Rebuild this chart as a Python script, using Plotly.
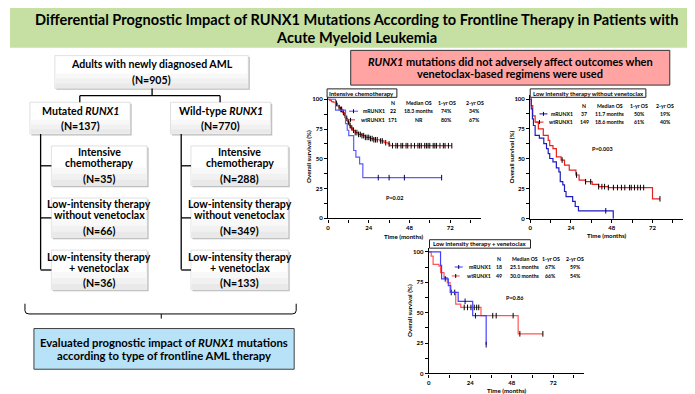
import plotly.graph_objects as go

W, H = 695, 394
def X(p): return p / W
def Y(p): return 1 - p / H

FONT = "Lato"

# ---------------- data ----------------
# Intensive chemotherapy
ic_mut_t = [0, 4.4, 10.3, 11.3, 12.2, 15.1, 16.4, 18.6, 20.5]
ic_mut_s = [100, 90.9, 79.5, 74.0, 69.4, 57.0, 51.4, 45.8, 34.2]
ic_mut_end = 67
ic_mut_cens = [29.6, 36, 45, 67]

ic_wt_t = [0, 1, 2, 3, 4.4, 5.5, 6.5, 7.4, 8.5, 9.5, 10.3, 11.5, 12.5, 13.2, 14.5, 16, 18, 20, 22, 24.8, 27, 30.6, 33, 35.4, 36.4]
ic_wt_s = [100, 99, 98, 97.5, 96.5, 94.5, 93, 91.5, 89, 86.5, 84, 81, 78, 76, 74, 72, 70.5, 69.4, 68, 67, 66, 65, 63.5, 62.5, 61]
ic_wt_end = 73
ic_wt_cens = [5, 6.5, 7.5, 8, 9, 10, 11, 12, 13, 14, 15, 16, 17, 18, 19, 20, 21, 22, 23, 24, 25, 26, 27, 28, 29,
              31, 32, 34, 36, 38, 40, 41, 43, 44, 46, 47, 49, 51, 53, 54, 55, 57, 58, 59, 60, 62, 63, 64, 66, 68, 69, 71, 73]

# Low intensity therapy without venetoclax
li_mut_t = [0, 0.6, 1.3, 1.9, 2.9, 5.4, 8, 9.6, 10.6, 11.5, 13.4, 15.4, 16.9, 17.7, 19.2, 20.2, 21.1, 25, 26.5, 28.4, 48.9]
li_mut_s = [100, 91.7, 83.4, 77.9, 69.6, 67.4, 62.7, 58.6, 54.4, 50.3, 47.5, 42.5, 39.2, 30.9, 28.2, 22.7, 18.5, 14.4, 10.2, 6.6, 0]
li_mut_end = 48.9
li_mut_cens = [44.5]

li_wt_t = [0, 0.6, 1.5, 2.9, 4.8, 7.7, 10.6, 11.5, 13.4, 15.4, 18.2, 20.2, 23, 26.9, 28.8, 32.6, 36.5, 40.3, 46, 72]
li_wt_s = [100, 94.5, 86, 80.7, 75, 69.6, 65.5, 61, 58.6, 51.7, 49, 44.8, 40.6, 36.5, 32.3, 30.9, 28.7, 26.8, 26, 16.6]
li_wt_end = 76.4
li_wt_cens = [18.8, 27.3, 32.6, 35.6, 40.3, 42.2, 43.8, 46, 49, 51.4, 53.7, 55.7, 58.5, 59.5, 61.4, 63.3, 64.9, 66.8, 76.4]

# Low intensity therapy + venetoclax
lv_mut_t = [0, 6.8, 7.4, 11.3, 12.7, 17, 25.4, 33.2]
lv_mut_s = [100, 88.9, 77.8, 72.2, 66.7, 59.3, 47.5, 23.7]
lv_mut_end = 33.2
lv_mut_cens = [9.5, 21, 27, 33.2]

lv_wt_t = [0, 1.4, 2.5, 5.9, 6.8, 8.8, 10.7, 12.3, 15.6, 18.5, 30.2, 51.7]
lv_wt_s = [100, 96.5, 89.7, 88.3, 82.9, 78.8, 74.7, 66.6, 57.0, 54.3, 47.5, 32.6]
lv_wt_end = 66
lv_wt_cens = [13, 15, 20.5, 22.4, 24.4, 26.3, 27.7, 28.9, 37, 39, 48.8, 52.7, 66]

x_ticks = [0, 12, 24, 36, 48, 60, 72, 84]
x_labels = ["0", "", "24", "", "48", "", "72", ""]
y_ticks = [0, 12.5, 25, 37.5, 50, 62.5, 75, 87.5, 100]
y_labels = ["0", "", "25", "", "50", "", "75", "", "100"]

legend_header = ["N", "Median OS", "1-yr OS", "2-yr OS"]
ic_rows = [["mRUNX1", "22", "18.3 months", "74%", "34%"], ["wtRUNX1", "171", "NR", "80%", "67%"]]
li_rows = [["mRUNX1", "37", "11.7 months", "50%", "19%"], ["wtRUNX1", "149", "18.6 months", "61%", "40%"]]
lv_rows = [["mRUNX1", "18", "25.1 months", "67%", "59%"], ["wtRUNX1", "49", "30.0 months", "66%", "54%"]]

# ---------------- figure ----------------
fig = go.Figure()

def surv_at(t, times, surv):
    v = surv[0]
    for tt, ss in zip(times, surv):
        if tt <= t:
            v = ss
    return v

def add_km(times, surv, end, cens, color, ccolor, ax):
    xs = list(times) + [end]
    ys = list(surv) + [surv[-1]]
    fig.add_trace(go.Scatter(x=xs, y=ys, mode="lines", line=dict(color=color, width=1.2, shape="hv"),
                             xaxis="x" + ax, yaxis="y" + ax, showlegend=False, hoverinfo="skip"))
    cy = [surv_at(c, times, surv) for c in cens]
    fig.add_trace(go.Scatter(x=cens, y=cy, mode="markers",
                             marker=dict(symbol="line-ns", size=4, line=dict(width=1, color=ccolor)),
                             xaxis="x" + ax, yaxis="y" + ax, showlegend=False, hoverinfo="skip"))

add_km(ic_wt_t, ic_wt_s, ic_wt_end, ic_wt_cens, "#ff2a2a", "#000000", "")
add_km(ic_mut_t, ic_mut_s, ic_mut_end, ic_mut_cens, "#5a5aff", "#000060", "")
add_km(li_wt_t, li_wt_s, li_wt_end, li_wt_cens, "#e82020", "#000000", "2")
add_km(li_mut_t, li_mut_s, li_mut_end, li_mut_cens, "#1c1cc0", "#000060", "2")
add_km(lv_wt_t, lv_wt_s, lv_wt_end, lv_wt_cens, "#ff5555", "#000000", "3")
add_km(lv_mut_t, lv_mut_s, lv_mut_end, lv_mut_cens, "#4040ff", "#000060", "3")

def xax(dom, anchor):
    return dict(domain=dom, range=[0, 90], anchor=anchor, showgrid=False, zeroline=False,
                showline=True, linecolor="black", linewidth=1.3, ticks="outside", ticklen=3,
                tickwidth=1, tickcolor="black", tickvals=x_ticks,
                ticktext=["<b>%s</b>" % t if t else "" for t in x_labels],
                tickfont=dict(size=6, family=FONT, color="black"), fixedrange=True)

def yax(dom, top, anchor):
    return dict(domain=dom, range=[0, top], anchor=anchor, showgrid=False, zeroline=False,
                showline=True, linecolor="black", linewidth=1.3, ticks="outside", ticklen=3,
                tickwidth=1, tickcolor="black", tickvals=y_ticks,
                ticktext=["<b>%s</b>" % t if t else "" for t in y_labels],
                tickfont=dict(size=6, family=FONT, color="black"), fixedrange=True)

fig.update_layout(
    width=W, height=H, margin=dict(l=0, r=0, t=0, b=0),
    paper_bgcolor="white", plot_bgcolor="rgba(0,0,0,0)", showlegend=False,
    xaxis=xax([X(319), X(472)], "y"),
    yaxis=yax([Y(212), Y(88)], 103.3, "x"),
    xaxis2=xax([X(521.7), X(675)], "y2"),
    yaxis2=yax([Y(212.3), Y(88)], 103.1, "x2"),
    xaxis3=xax([X(420), X(576)], "y3"),
    yaxis3=yax([Y(368.3), Y(242)], 103.0, "x3"),
)

shapes = []
ann = []

def rect(x0, y0, x1, y1, fill, line="#000000", lw=1, layer="below"):
    shapes.append(dict(type="rect", xref="paper", yref="paper", x0=X(x0), x1=X(x1), y0=Y(y1), y1=Y(y0),
                       fillcolor=fill, line=dict(color=line, width=lw), layer=layer))

def line(x0, y0, x1, y1, color="#000000", lw=1.3, layer="below"):
    shapes.append(dict(type="line", xref="paper", yref="paper", x0=X(x0), x1=X(x1), y0=Y(y0), y1=Y(y1),
                       line=dict(color=color, width=lw), layer=layer))

def text(x, y, s, size, bold=True, xanchor="center", color="#000000", angle=0):
    ann.append(dict(x=X(x), y=Y(y), xref="paper", yref="paper", text=("<b>%s</b>" % s) if bold else s,
                    showarrow=False, xanchor=xanchor, yanchor="middle", textangle=angle,
                    font=dict(size=size, family=FONT, color=color)))

# Title band
rect(0, 0, W, 40, "#c6e0a4", line="#c6e0a4", lw=0)
text(347.5, 11.5, "Differential Prognostic Impact of RUNX1 Mutations According to Frontline Therapy in Patients with", 14.6)
text(347.5, 29.5, "Acute Myeloid Leukemia", 14.6)

BOX_FS = 10.6

# flowchart boxes
def fbox(x0, y0, x1, y1, lines, ys, size=BOX_FS):
    rect(x0 + 1.5, y0 + 1.5, x1 + 1.5, y1 + 1.5, "#bdbdbd", line="#bdbdbd", lw=0)
    rect(x0, y0, x1, y1, "#ffffff", line="#d8d8d8", lw=0.8)
    h = y1 - y0
    for k, c in enumerate(["#f8f8f8", "#f1f1f1", "#e9e9e9"]):
        rect(x0 + 0.5, y0 + h * (0.55 + 0.15 * k), x1 - 0.5, y1 - 0.5, c, line=c, lw=0)
    for s, yy in zip(lines, ys):
        text((x0 + x1) / 2, yy, s, size)

fbox(45, 48, 239, 81, ["Adults with newly diagnosed AML", "(N=905)"], [56.7, 72.7])
fbox(20, 95, 120.5, 127, ["Mutated <i>RUNX1</i>", "(N=137)"], [103.3, 119])
fbox(161, 95, 261.5, 127, ["Wild-type <i>RUNX1</i>", "(N=770)"], [103.3, 119])

sub_y = [(139, 179), (191.5, 231.5), (244, 284)]
left_txt = [["Intensive", "chemotherapy", "(N=35)"],
            ["Low-intensity therapy", "without venetoclax", "(N=66)"],
            ["Low-intensity therapy", "+ venetoclax", "(N=36)"]]
right_txt = [["Intensive", "chemotherapy", "(N=288)"],
             ["Low-intensity therapy", "without venetoclax", "(N=349)"],
             ["Low-intensity therapy", "+ venetoclax", "(N=133)"]]
for (y0, y1), lt, rt in zip(sub_y, left_txt, right_txt):
    ys = [y0 + 6.5, y0 + 17.5, y0 + 33]
    fbox(41.5, y0, 137.5, y1, lt, ys)
    fbox(181.5, y0, 279, y1, rt, ys)

# connectors
line(142.5, 81, 142.5, 88.3)
line(70, 88.3, 210.7, 88.3)
line(70, 88.3, 70, 95)
line(210.7, 88.3, 210.7, 95)
line(30.7, 127, 30.7, 263.5)
line(171.7, 127, 171.7, 263.5)
for (y0, y1) in sub_y:
    ym = (y0 + y1) / 2
    line(30.7, ym, 41.5, ym)
    line(171.7, ym, 181.5, ym)

# bracket
shapes.append(dict(type="path", xref="paper", yref="paper",
                   path="M %f %f L %f %f Q %f %f %f %f L %f %f Q %f %f %f %f L %f %f M %f %f L %f %f" % (
                       X(15), Y(298), X(15), Y(305), X(15), Y(308.3), X(19), Y(308.3), X(283), Y(308.3),
                       X(287), Y(308.3), X(287), Y(305), X(287), Y(298),
                       X(151.7), Y(308.3), X(151.7), Y(313)),
                   line=dict(color="#000000", width=1)))

# blue summary box
rect(24, 323, 285, 364, "#b8e2f8", line="#404040", lw=1)
text(154.5, 337.5, "Evaluated prognostic impact of <i>RUNX1</i> mutations", 11.3)
text(154.5, 350.5, "according to type of frontline AML therapy", 11.3)

# pink message box
rect(341.7, 42.7, 661.7, 77.7, "#ffa3a3", line="#333333", lw=1)
text(501.7, 54, "<i>RUNX1</i> mutations did not adversely affect outcomes when", 11.0)
text(501.7, 66.5, "venetoclax-based regimens were used", 11.0)

# KM panel titles
def ptitle(x0, y0, x1, y1, s):
    rect(x0, y0, x1, y1, "#ffffff", line="#222222", lw=1, layer="above")
    text((x0 + x1) / 2, (y0 + y1) / 2, s, 6)

ptitle(318, 81.5, 388, 90, "Intensive chemotherapy")
ptitle(521.7, 81.5, 637.7, 90, "Low intensity therapy without venetoclax")
ptitle(420.7, 233.5, 522, 242, "Low intensity therapy + venetoclax")

# axis titles
text(395, 230, "Time (months)", 6.2)
text(598.3, 229.5, "Time (months)", 6.2)
text(498, 385.5, "Time (months)", 6.2)
text(300, 150, "Overall survival (%)", 6.2, angle=-90)
text(503, 150, "Overall survival (%)", 6.2, angle=-90)
text(400.5, 305, "Overall survival (%)", 6.2, angle=-90)

# KM legends
def km_legend(hy, ry, colx, lab_r, mx, rows, cols_colors, pval, pxy):
    for s, cx in zip(legend_header, colx):
        text(cx, hy, s, 5.2)
    for row, yy, (lc, cc), (m0, m1) in zip(rows, ry, cols_colors, mx):
        line(m0, yy, m1, yy, color=lc, lw=1.1, layer="above")
        line((m0 + m1) / 2, yy - 2, (m0 + m1) / 2, yy + 2, color=cc, lw=1, layer="above")
        text(lab_r, yy, row[0], 5.2, xanchor="right")
        for s, cx in zip(row[1:], colx):
            text(cx, yy, s, 5.2)
    text(pxy[0], pxy[1], pval, 5.5)

km_legend(95.7, [104, 112.7], [384, 410, 438, 466], 378, [(340, 349), (337, 346)], ic_rows,
          [("#5a5aff", "#000060"), ("#ff2a2a", "#000000")], "P=0.02", (386, 191.7))
km_legend(98.3, [106.7, 115], [576, 601.7, 631, 657.3], 567, [(531, 539), (527, 535)], li_rows,
          [("#1c1cc0", "#000060"), ("#e82020", "#000000")], "P=0.003", (594.3, 141.7))
km_legend(253.3, [261, 270], [490, 516, 542.3, 566.7], 484, [(446, 454), (443, 451)], lv_rows,
          [("#4040ff", "#000060"), ("#ff5555", "#000000")], "P=0.86", (506.7, 292.3))

# bottom slide edge
rect(0, 391, W, 394, "#d0d0d0", line="#d0d0d0", lw=0)

fig.update_layout(shapes=shapes, annotations=ann)
fig.write_html("out.html")
